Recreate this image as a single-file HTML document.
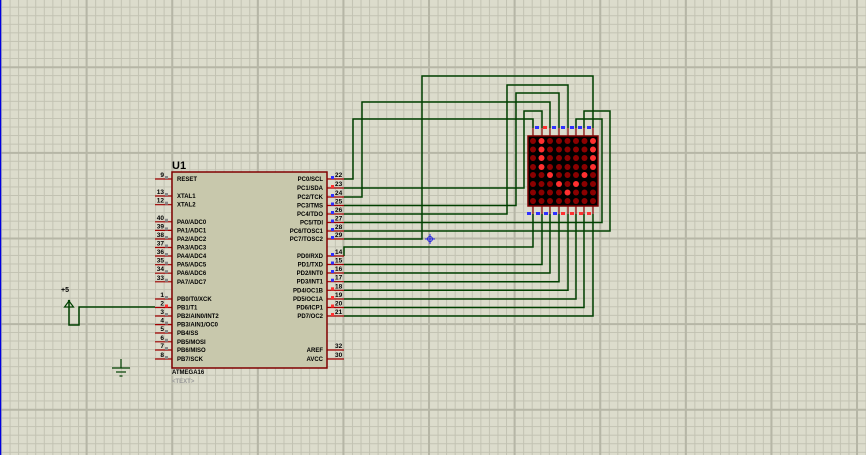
<!DOCTYPE html>
<html><head><meta charset="utf-8"><style>
html,body{margin:0;padding:0;background:#dcdccc;}
svg{display:block;}
text{font-family:"Liberation Sans",sans-serif;font-weight:bold;}
</style></head><body>
<svg width="866" height="455" viewBox="0 0 866 455" xmlns="http://www.w3.org/2000/svg">
<defs>
<pattern id="g" x="1" y="6.7" width="8.56" height="8.56" patternUnits="userSpaceOnUse">
<path d="M0.5 0V8.56M0 0.5H8.56" stroke="#c2c2b2" stroke-width="1" fill="none"/>
</pattern>
</defs>
<rect width="866" height="455" fill="#dcdccc"/>
<rect width="866" height="455" fill="url(#g)"/>
<g stroke="#b6b6a6" stroke-width="2">
<line x1="86.6" y1="0" x2="86.6" y2="455"/><line x1="172.2" y1="0" x2="172.2" y2="455"/><line x1="257.8" y1="0" x2="257.8" y2="455"/><line x1="343.4" y1="0" x2="343.4" y2="455"/><line x1="429" y1="0" x2="429" y2="455"/><line x1="514.6" y1="0" x2="514.6" y2="455"/><line x1="600.2" y1="0" x2="600.2" y2="455"/><line x1="685.8" y1="0" x2="685.8" y2="455"/><line x1="771.4" y1="0" x2="771.4" y2="455"/><line x1="857" y1="0" x2="857" y2="455"/>
<line x1="0" y1="67.3" x2="866" y2="67.3"/><line x1="0" y1="152.9" x2="866" y2="152.9"/><line x1="0" y1="238.5" x2="866" y2="238.5"/><line x1="0" y1="324.1" x2="866" y2="324.1"/><line x1="0" y1="409.7" x2="866" y2="409.7"/>
</g>
<line x1="0.5" y1="0" x2="0.5" y2="455" stroke="#0000e0" stroke-width="1.5"/>

<!-- wires -->
<g stroke="#004000" stroke-width="1.5" fill="none">
<polyline points="344,179 353,179 353,119 533,119 533,128"/>
<polyline points="344,188 524,188 524,111 542,111 542,128"/>
<polyline points="344,197 362,197 362,102 550,102 550,128"/>
<polyline points="344,205.5 516,205.5 516,93 559,93 559,128"/>
<polyline points="344,214 507,214 507,85 568,85 568,128"/>
<polyline points="344,222.5 602,222.5 602,119 576,119 576,128"/>
<polyline points="344,231 610,231 610,111 584,111 584,128"/>
<polyline points="344,239 422,239 422,76 593,76 593,128"/>
<polyline points="344,256 344,247 533,247 533,214"/>
<polyline points="344,264.5 542,264.5 542,214"/>
<polyline points="344,273 550,273 550,214"/>
<polyline points="344,281.7 559,281.7 559,214"/>
<polyline points="344,290.3 568,290.3 568,214"/>
<polyline points="344,299 576,299 576,214"/>
<polyline points="344,307.5 584,307.5 584,214"/>
<polyline points="344,316 593,316 593,214"/>
<polyline points="155,307 79,307 79,325 69,325 69,301"/>
</g>

<!-- power terminal -->
<text x="61" y="292" font-size="7" fill="#000">+5</text>
<polygon points="69,301 64.5,307 73.5,307" fill="none" stroke="#004000" stroke-width="1.2"/>
<circle cx="69" cy="301" r="1.2" fill="#004000"/>
<!-- ground -->
<g stroke="#004000" stroke-width="1.2">
<line x1="121" y1="359" x2="121" y2="368"/>
<line x1="112" y1="368" x2="130" y2="368"/>
<line x1="116" y1="372" x2="126" y2="372"/>
<line x1="119.5" y1="376" x2="122.5" y2="376"/>
</g>

<!-- chip -->
<g stroke="#a00000" stroke-width="1.2">
<line x1="155" y1="179" x2="172" y2="179"/>
<line x1="155" y1="196" x2="172" y2="196"/><line x1="155" y1="204.7" x2="172" y2="204.7"/>
<line x1="155" y1="221.8" x2="172" y2="221.8"/><line x1="155" y1="230.4" x2="172" y2="230.4"/><line x1="155" y1="239" x2="172" y2="239"/><line x1="155" y1="247.5" x2="172" y2="247.5"/><line x1="155" y1="256" x2="172" y2="256"/><line x1="155" y1="264.7" x2="172" y2="264.7"/><line x1="155" y1="273.2" x2="172" y2="273.2"/><line x1="155" y1="281.8" x2="172" y2="281.8"/>
<line x1="155" y1="299" x2="172" y2="299"/><line x1="155" y1="307.5" x2="172" y2="307.5"/><line x1="155" y1="316" x2="172" y2="316"/><line x1="155" y1="324.6" x2="172" y2="324.6"/><line x1="155" y1="333" x2="172" y2="333"/><line x1="155" y1="341.8" x2="172" y2="341.8"/><line x1="155" y1="350" x2="172" y2="350"/><line x1="155" y1="359" x2="172" y2="359"/>
<line x1="327" y1="179" x2="344" y2="179"/><line x1="327" y1="188" x2="344" y2="188"/><line x1="327" y1="197" x2="344" y2="197"/><line x1="327" y1="205.5" x2="344" y2="205.5"/><line x1="327" y1="214" x2="344" y2="214"/><line x1="327" y1="222.5" x2="344" y2="222.5"/><line x1="327" y1="231" x2="344" y2="231"/><line x1="327" y1="239" x2="344" y2="239"/>
<line x1="327" y1="256" x2="344" y2="256"/><line x1="327" y1="264.5" x2="344" y2="264.5"/><line x1="327" y1="273" x2="344" y2="273"/><line x1="327" y1="281.7" x2="344" y2="281.7"/><line x1="327" y1="290.3" x2="344" y2="290.3"/><line x1="327" y1="299" x2="344" y2="299"/><line x1="327" y1="307.5" x2="344" y2="307.5"/><line x1="327" y1="316" x2="344" y2="316"/>
<line x1="327" y1="350" x2="344" y2="350"/><line x1="327" y1="359" x2="344" y2="359"/>
</g>
<rect x="172" y="172" width="155" height="196" fill="#c8c8ac" stroke="#800000" stroke-width="1.5"/>
<text x="172" y="169" font-size="11" font-weight="normal" fill="#000">U1</text>
<text x="172" y="374" font-size="6" fill="#000">ATMEGA16</text>
<text x="172" y="383" font-size="6" font-weight="normal" fill="#999">&lt;TEXT&gt;</text>

<!-- left markers -->
<g fill="#888">
<rect x="165" y="176" width="3" height="3"/><rect x="165" y="193" width="3" height="3"/><rect x="165" y="201.7" width="3" height="3"/>
<rect x="165" y="218.8" width="3" height="3"/><rect x="165" y="227.4" width="3" height="3"/><rect x="165" y="236" width="3" height="3"/><rect x="165" y="244.5" width="3" height="3"/><rect x="165" y="253" width="3" height="3"/><rect x="165" y="261.7" width="3" height="3"/><rect x="165" y="270.2" width="3" height="3"/><rect x="165" y="278.8" width="3" height="3"/>
<rect x="165" y="296" width="3" height="3"/><rect x="165" y="313" width="3" height="3"/><rect x="165" y="321.6" width="3" height="3"/><rect x="165" y="330" width="3" height="3"/><rect x="165" y="338.8" width="3" height="3"/><rect x="165" y="347" width="3" height="3"/><rect x="165" y="356" width="3" height="3"/>
</g>
<rect x="165" y="304.5" width="3" height="3" fill="#ff3030"/>
<!-- right markers -->
<g fill="#3030ff">
<rect x="331" y="176" width="3" height="3"/><rect x="331" y="194" width="3" height="3"/><rect x="331" y="202.5" width="3" height="3"/><rect x="331" y="211" width="3" height="3"/><rect x="331" y="219.5" width="3" height="3"/><rect x="331" y="228" width="3" height="3"/><rect x="331" y="236" width="3" height="3"/>
<rect x="331" y="253" width="3" height="3"/><rect x="331" y="261.5" width="3" height="3"/><rect x="331" y="270" width="3" height="3"/><rect x="331" y="278.7" width="3" height="3"/>
</g>
<g fill="#ff3030">
<rect x="331" y="185" width="3" height="3"/>
<rect x="331" y="287.3" width="3" height="3"/><rect x="331" y="296" width="3" height="3"/><rect x="331" y="304.5" width="3" height="3"/><rect x="331" y="313" width="3" height="3"/>
</g>

<!-- left pin numbers -->
<g font-size="6.5" fill="#000" text-anchor="end">
<text x="164" y="177">9</text><text x="164" y="194">13</text><text x="164" y="202.7">12</text>
<text x="164" y="219.8">40</text><text x="164" y="228.4">39</text><text x="164" y="237">38</text><text x="164" y="245.5">37</text><text x="164" y="254">36</text><text x="164" y="262.7">35</text><text x="164" y="271.2">34</text><text x="164" y="279.8">33</text>
<text x="164" y="297">1</text><text x="164" y="305.5">2</text><text x="164" y="314">3</text><text x="164" y="322.6">4</text><text x="164" y="331">5</text><text x="164" y="339.8">6</text><text x="164" y="348">7</text><text x="164" y="357">8</text>
</g>
<!-- right pin numbers -->
<g font-size="6.5" fill="#000">
<text x="335" y="177">22</text><text x="335" y="186">23</text><text x="335" y="195">24</text><text x="335" y="203.5">25</text><text x="335" y="212">26</text><text x="335" y="220.5">27</text><text x="335" y="229">28</text><text x="335" y="237">29</text>
<text x="335" y="254">14</text><text x="335" y="262.5">15</text><text x="335" y="271">16</text><text x="335" y="279.7">17</text><text x="335" y="288.3">18</text><text x="335" y="297">19</text><text x="335" y="305.5">20</text><text x="335" y="314">21</text>
<text x="335" y="348">32</text><text x="335" y="357">30</text>
</g>
<!-- left pin names -->
<g font-size="6" fill="#000">
<text x="177" y="181">RESET</text><text x="177" y="198">XTAL1</text><text x="177" y="206.7">XTAL2</text>
<text x="177" y="223.8">PA0/ADC0</text><text x="177" y="232.4">PA1/ADC1</text><text x="177" y="241">PA2/ADC2</text><text x="177" y="249.5">PA3/ADC3</text><text x="177" y="258">PA4/ADC4</text><text x="177" y="266.7">PA5/ADC5</text><text x="177" y="275.2">PA6/ADC6</text><text x="177" y="283.8">PA7/ADC7</text>
<text x="177" y="301">PB0/T0/XCK</text><text x="177" y="309.5">PB1/T1</text><text x="177" y="318">PB2/AIN0/INT2</text><text x="177" y="326.6">PB3/AIN1/OC0</text><text x="177" y="335">PB4/SS</text><text x="177" y="343.8">PB5/MOSI</text><text x="177" y="352">PB6/MISO</text><text x="177" y="361">PB7/SCK</text>
</g>
<!-- right pin names -->
<g font-size="6" fill="#000" text-anchor="end">
<text x="323" y="181">PC0/SCL</text><text x="323" y="190">PC1/SDA</text><text x="323" y="199">PC2/TCK</text><text x="323" y="207.5">PC3/TMS</text><text x="323" y="216">PC4/TDO</text><text x="323" y="224.5">PC5/TDI</text><text x="323" y="233">PC6/TOSC1</text><text x="323" y="241">PC7/TOSC2</text>
<text x="323" y="258">PD0/RXD</text><text x="323" y="266.5">PD1/TXD</text><text x="323" y="275">PD2/INT0</text><text x="323" y="283.7">PD3/INT1</text><text x="323" y="292.3">PD4/OC1B</text><text x="323" y="301">PD5/OC1A</text><text x="323" y="309.5">PD6/ICP1</text><text x="323" y="318">PD7/OC2</text>
<text x="323" y="352">AREF</text><text x="323" y="361">AVCC</text>
</g>

<!-- crosshair -->
<g stroke="#2020e0" stroke-width="1" fill="none">
<circle cx="430" cy="239" r="2.5"/>
<line x1="425" y1="239" x2="435" y2="239"/><line x1="430" y1="234" x2="430" y2="244"/>
</g>

<!-- matrix -->
<g stroke="#8b0000" stroke-width="1.2">
<line x1="533" y1="128" x2="533" y2="136"/><line x1="542" y1="128" x2="542" y2="136"/><line x1="550" y1="128" x2="550" y2="136"/><line x1="559" y1="128" x2="559" y2="136"/><line x1="568" y1="128" x2="568" y2="136"/><line x1="576" y1="128" x2="576" y2="136"/><line x1="584" y1="128" x2="584" y2="136"/><line x1="593" y1="128" x2="593" y2="136"/>
<line x1="533" y1="206" x2="533" y2="214"/><line x1="542" y1="206" x2="542" y2="214"/><line x1="550" y1="206" x2="550" y2="214"/><line x1="559" y1="206" x2="559" y2="214"/><line x1="568" y1="206" x2="568" y2="214"/><line x1="576" y1="206" x2="576" y2="214"/><line x1="584" y1="206" x2="584" y2="214"/><line x1="593" y1="206" x2="593" y2="214"/>
</g>
<g fill="#3030ff">
<rect x="535" y="126" width="4" height="3"/><rect x="552" y="126" width="4" height="3"/><rect x="561" y="126" width="4" height="3"/><rect x="570" y="126" width="4" height="3"/><rect x="578" y="126" width="4" height="3"/><rect x="587" y="126" width="4" height="3"/>
<rect x="527" y="212" width="4" height="3"/><rect x="536" y="212" width="4" height="3"/><rect x="544" y="212" width="4" height="3"/><rect x="553" y="212" width="4" height="3"/>
</g>
<g fill="#ff3030">
<rect x="543" y="126" width="4" height="3"/>
<rect x="561" y="212" width="4" height="3"/><rect x="570" y="212" width="4" height="3"/><rect x="579" y="212" width="4" height="3"/><rect x="587" y="212" width="4" height="3"/>
</g>
<rect x="528" y="136" width="70" height="70" fill="#000" stroke="#800000" stroke-width="1.5"/>
<g fill="#8b0000">
<circle cx="533" cy="141" r="3"/><circle cx="550" cy="141" r="3"/><circle cx="559" cy="141" r="3"/><circle cx="567.5" cy="141" r="3"/><circle cx="576" cy="141" r="3"/><circle cx="584.5" cy="141" r="3"/>
<circle cx="533" cy="149.5" r="3"/><circle cx="550" cy="149.5" r="3"/><circle cx="559" cy="149.5" r="3"/><circle cx="567.5" cy="149.5" r="3"/><circle cx="576" cy="149.5" r="3"/><circle cx="584.5" cy="149.5" r="3"/>
<circle cx="533" cy="158" r="3"/><circle cx="550" cy="158" r="3"/><circle cx="559" cy="158" r="3"/><circle cx="567.5" cy="158" r="3"/><circle cx="576" cy="158" r="3"/><circle cx="584.5" cy="158" r="3"/>
<circle cx="533" cy="167" r="3"/><circle cx="550" cy="167" r="3"/><circle cx="559" cy="167" r="3"/><circle cx="567.5" cy="167" r="3"/><circle cx="576" cy="167" r="3"/><circle cx="584.5" cy="167" r="3"/>
<circle cx="533" cy="175" r="3"/><circle cx="541.5" cy="175" r="3"/><circle cx="559" cy="175" r="3"/><circle cx="567.5" cy="175" r="3"/><circle cx="576" cy="175" r="3"/><circle cx="593" cy="175" r="3"/>
<circle cx="533" cy="184" r="3"/><circle cx="541.5" cy="184" r="3"/><circle cx="550" cy="184" r="3"/><circle cx="567.5" cy="184" r="3"/><circle cx="584.5" cy="184" r="3"/><circle cx="593" cy="184" r="3"/>
<circle cx="533" cy="192.5" r="3"/><circle cx="541.5" cy="192.5" r="3"/><circle cx="550" cy="192.5" r="3"/><circle cx="559" cy="192.5" r="3"/><circle cx="576" cy="192.5" r="3"/><circle cx="584.5" cy="192.5" r="3"/><circle cx="593" cy="192.5" r="3"/>
<circle cx="533" cy="201" r="3"/><circle cx="541.5" cy="201" r="3"/><circle cx="550" cy="201" r="3"/><circle cx="559" cy="201" r="3"/><circle cx="567.5" cy="201" r="3"/><circle cx="576" cy="201" r="3"/><circle cx="584.5" cy="201" r="3"/><circle cx="593" cy="201" r="3"/>
</g>
<g fill="#ff3030">
<circle cx="541.5" cy="141" r="3"/><circle cx="593" cy="141" r="3"/>
<circle cx="541.5" cy="149.5" r="3"/><circle cx="593" cy="149.5" r="3"/>
<circle cx="541.5" cy="158" r="3"/><circle cx="593" cy="158" r="3"/>
<circle cx="541.5" cy="167" r="3"/><circle cx="593" cy="167" r="3"/>
<circle cx="550" cy="175" r="3"/><circle cx="584.5" cy="175" r="3"/>
<circle cx="559" cy="184" r="3"/><circle cx="576" cy="184" r="3"/>
<circle cx="567.5" cy="192.5" r="3"/>
</g>
</svg>
</body></html>
